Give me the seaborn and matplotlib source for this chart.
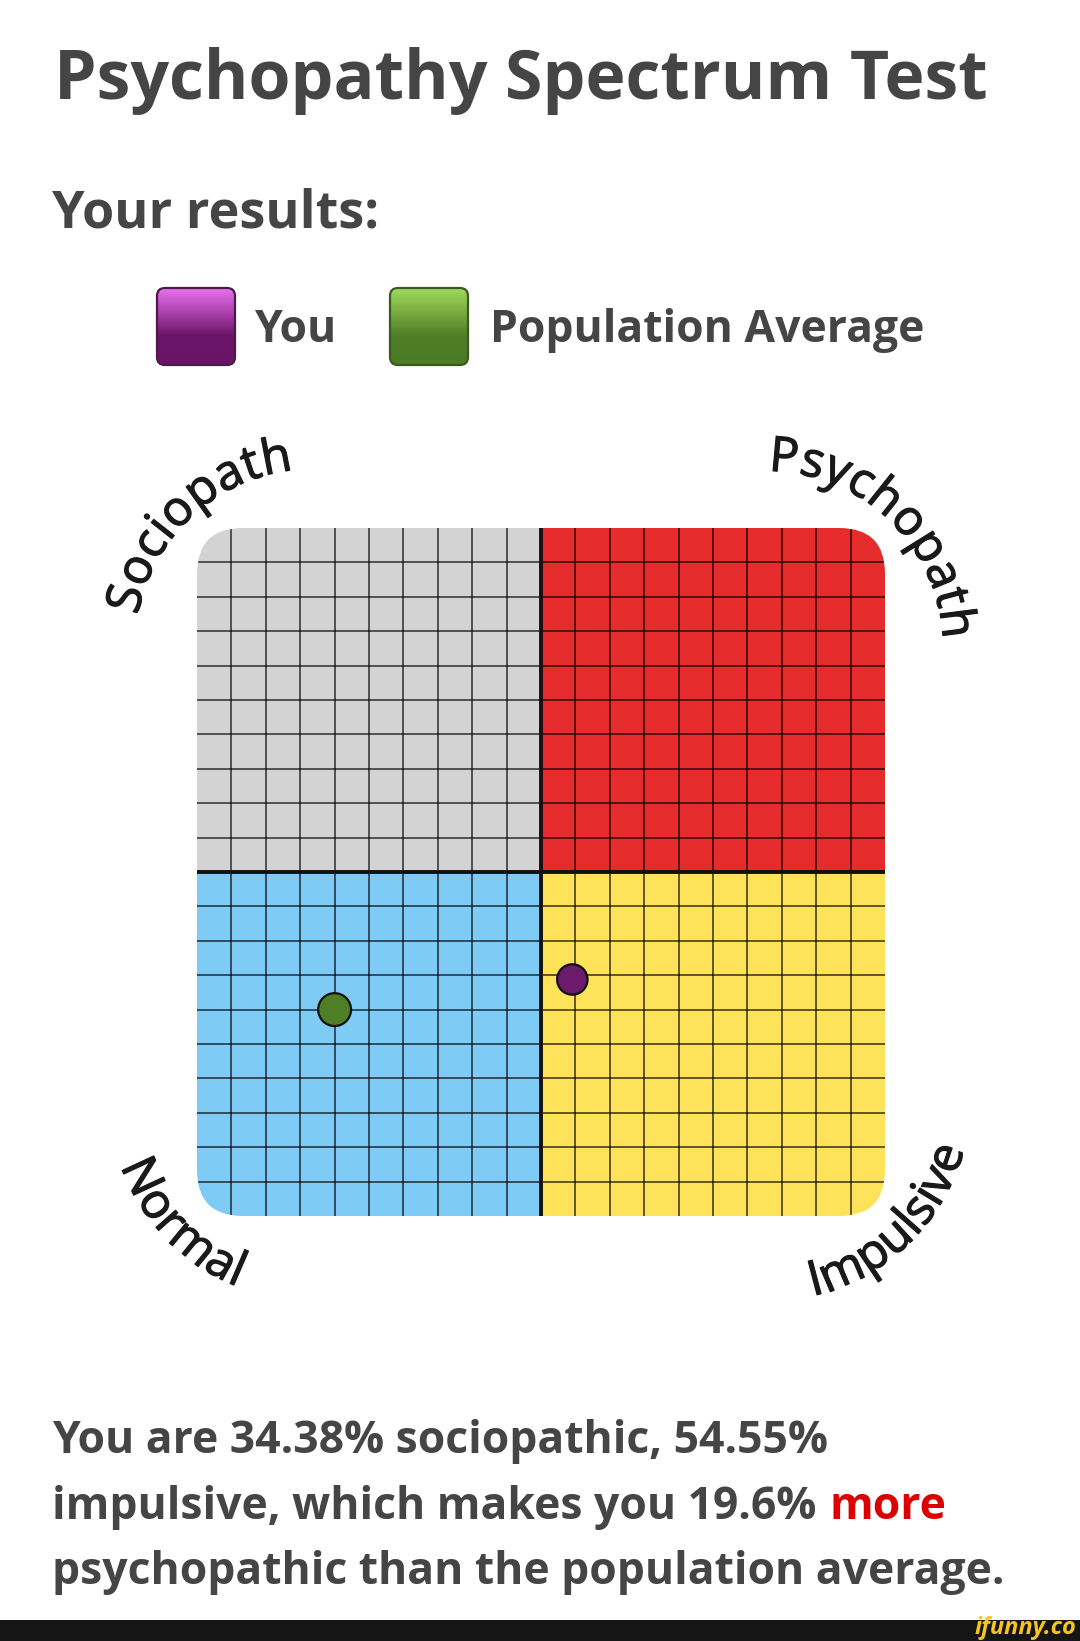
import numpy as np
import pandas as pd
import seaborn as sns
import matplotlib.pyplot as plt
import matplotlib.patheffects as pe
from matplotlib.colors import ListedColormap, LinearSegmentedColormap
from matplotlib.patches import FancyBboxPatch
from matplotlib.textpath import TextToPath
from matplotlib.font_manager import FontProperties

# data
quadrant_labels = ["Sociopath", "Psychopath", "Normal", "Impulsive"]
quadrant_colors = ["#d3d3d3", "#e52b2b", "#7ecbf5", "#fde25a"]
point_labels = ["You", "Population Average"]
sociopathic_pct = [34.38, 30.0]
impulsive_pct = [54.55, 20.0]
point_colors = ["#6b1a6c", "#4e7e25"]
title = "Psychopathy Spectrum Test"
subtitle = "Your results:"
summary_lines = ["You are 34.38% sociopathic, 54.55%",
                 "impulsive, which makes you 19.6% ",
                 "psychopathic than the population average."]
highlight_word = "more"
n_cells = 20

W, H, DPI = 1080, 1641, 100
TXT = "#454545"

sns.set_style("white")
plt.rcParams['font.family'] = ['Open Sans', 'DejaVu Sans']

fig = plt.figure(figsize=(W / DPI, H / DPI), dpi=DPI)
fig.patch.set_facecolor("white")

# overlay in pixel coords (y down)
ov = fig.add_axes([0, 0, 1, 1])
ov.set_axis_off()


def reset_ov():
    ov.set_xlim(0, W)
    ov.set_ylim(H, 0)


reset_ov()

ov.text(54, 99, title, fontsize=49, fontweight='bold', color=TXT, va='baseline')
ov.text(52, 228, subtitle, fontsize=37.5, fontweight='bold', color=TXT, va='baseline')

# legend swatches with gradient
swatches = [
    (157, 288, ["#ea70ee", "#a43ca6", "#6b1668", "#6a1466"], "#4a1a48", "You", 254),
    (390, 288, ["#9ed95c", "#74a63e", "#507e27", "#4d7a24"], "#3b5a22", "Population Average", 490),
]
for x0, y0, cols, edge, lab, tx in swatches:
    sw, sh = 78, 77
    cmap = LinearSegmentedColormap.from_list("g", list(zip([0, 0.35, 0.62, 1], cols)))
    grad = np.linspace(0, 1, 100).reshape(-1, 1)
    im = ov.imshow(grad, cmap=cmap, extent=(x0, x0 + sw, y0 + sh, y0),
                   origin='upper', aspect='auto', zorder=2)
    box = FancyBboxPatch((x0, y0), sw, sh, boxstyle="round,pad=0,rounding_size=8",
                         facecolor='none', edgecolor=edge, lw=1.6, zorder=3)
    ov.add_patch(box)
    im.set_clip_path(box)
    ov.text(tx, 342, lab, fontsize=32, fontweight='bold', color=TXT, va='baseline')
reset_ov()

# curved corner labels
ttp = TextToPath()
lab_fp = FontProperties(family=['Open Sans', 'DejaVu Sans'], size=35)
heavier = [pe.withStroke(linewidth=0.9, foreground="#1a1a1a")]


def tw(s):
    return ttp.get_text_width_height_descent(s, lab_fp, ismath=False)[0] * DPI / 72


def arc_text(s, cx, cy, r, mid, top):
    total = tw(s) * 1.02
    for i, ch in enumerate(s):
        c = (tw(s[:i]) + tw(s[:i + 1])) / 2 * 1.02
        off = (total / 2 - c) / r
        if top:
            th = np.radians(mid) + off
            rot = np.degrees(th) - 90
        else:
            th = np.radians(mid) - off
            rot = np.degrees(th) + 90
        ov.text(cx + r * np.cos(th), cy - r * np.sin(th), ch, fontproperties=lab_fp,
                color="#1a1a1a", rotation=rot, rotation_mode='anchor',
                ha='center', va='baseline', path_effects=heavier)


arc_text(quadrant_labels[0], 313, 647, 178, 133, True)
arc_text(quadrant_labels[1], 767, 647, 176, 46, True)
arc_text(quadrant_labels[2], 313, 1097, 204, 224, False)
arc_text(quadrant_labels[3], 767, 1097, 204, 314, False)

# quadrant grid
gx0, gy0, gs = 197, 528, 688
gax = fig.add_axes([gx0 / W, (H - gy0 - gs) / H, gs / W, gs / H])
half = n_cells // 2
quad = np.block([[np.full((half, half), 0), np.full((half, half), 1)],
                 [np.full((half, half), 2), np.full((half, half), 3)]])
sns.heatmap(quad, cmap=ListedColormap(quadrant_colors), vmin=-0.5, vmax=3.5,
            cbar=False, linewidths=0, ax=gax)
gax.set_axis_off()

clip = FancyBboxPatch((0, 0), n_cells, n_cells, boxstyle="round,pad=0,rounding_size=1.35",
                      facecolor='none', edgecolor='none', transform=gax.transData)
gax.add_patch(clip)
gax.collections[0].set_clip_path(clip)

ticks = [k for k in range(1, n_cells) if k != half]
vl = gax.vlines(ticks, 0, n_cells, colors=[(0, 0, 0, 0.62)], lw=1.4)
hl = gax.hlines(ticks, 0, n_cells, colors=[(0, 0, 0, 0.62)], lw=1.4)
cv = gax.vlines([half], 0, n_cells, colors='#111111', lw=2.8)
ch_ = gax.hlines([half], 0, n_cells, colors='#111111', lw=2.8)
for coll in (vl, hl, cv, ch_):
    coll.set_clip_path(clip)

pts = pd.DataFrame({
    "who": point_labels,
    "x": [v / 100 * n_cells for v in impulsive_pct],
    "y": [n_cells - v / 100 * n_cells for v in sociopathic_pct],
})
sns.scatterplot(data=pts, x="x", y="y", hue="who", palette=dict(zip(point_labels, point_colors)),
                size="who", sizes={"You": 480, "Population Average": 560},
                edgecolor="#111111", linewidth=1.6, legend=False, zorder=5, ax=gax)
gax.set_xlim(0, n_cells)
gax.set_ylim(n_cells, 0)

# summary paragraph
base_y = [1453, 1519, 1584]
for line, y in zip(summary_lines, base_y):
    ov.text(52, y, line, fontsize=32, fontweight='bold', color=TXT, va='baseline')

fig.canvas.draw()
r = fig.canvas.get_renderer()
mid_t = ov.texts[-2]
bb = mid_t.get_window_extent(renderer=r)
ov.text(bb.x1 + 2, base_y[1], highlight_word, fontsize=32, fontweight='bold',
        color="#dd0000", va='baseline')

# bottom bar + watermark
ov.add_patch(plt.Rectangle((0, 1620), W, 21, facecolor="#151515", edgecolor='none', zorder=1))
ov.text(1076, 1640, "ifunny.co", fontsize=17, fontweight='bold', style='italic',
        color="#f6c61c", ha='right', va='bottom', zorder=2)
reset_ov()

fig.savefig("out.png", dpi=DPI, facecolor="white")
